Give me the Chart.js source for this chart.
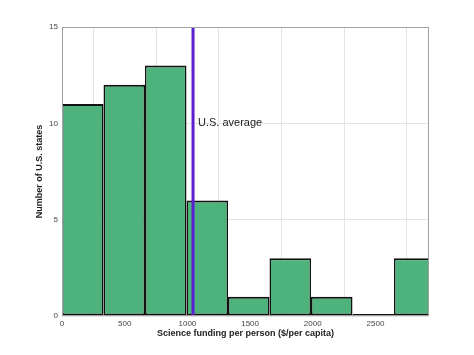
<!DOCTYPE html>
<html>
<head>
<meta charset="utf-8">
<script src="https://cdn.jsdelivr.net/npm/chart.js@4/dist/chart.umd.min.js"></script>
<style>
html,body{margin:0;padding:0;background:#fff;}
#wrap{width:474px;height:355px;}
</style>
</head>
<body>
<div id="wrap"><canvas id="c" width="474" height="355"></canvas></div>
<script>
// Histogram bin edges and counts per bin
const binEdges = [0, 331, 662, 993, 1324, 1655, 1986, 2317, 2648, 2979];
const counts = [11, 12, 13, 6, 1, 3, 1, 0, 3];
const usAverage = 1045;
const avgLabel = 'U.S. average';
const avgLabelY = 10;
const xTicks = [0, 500, 1000, 1500, 2000, 2500];
const yTicks = [0, 5, 10, 15];
const xMax = 2927;
const xTitle = 'Science funding per person ($/per capita)';
const yTitle = 'Number of U.S. states';

const barData = counts.map((c, i) => ({x: (binEdges[i] + binEdges[i + 1]) / 2, y: c}));
const lineData = [{x: usAverage, y: 0}, {x: usAverage, y: yTicks[yTicks.length - 1]}];

const boxPlugin = {
  id: 'box',
  afterDatasetsDraw(chart) {
    const {ctx, chartArea: a, scales} = chart;
    ctx.save();
    ctx.strokeStyle = '#a0a0a0';
    ctx.lineWidth = 1;
    ctx.strokeRect(a.left + 0.5, a.top + 0.5, a.right - a.left - 1, a.bottom - a.top - 1);
    ctx.fillStyle = '#222';
    ctx.font = '11px "Liberation Sans", Arial, sans-serif';
    ctx.textAlign = 'left';
    ctx.textBaseline = 'middle';
    ctx.fillText(avgLabel, scales.x.getPixelForValue(usAverage) + 5, scales.y.getPixelForValue(avgLabelY));
    ctx.restore();
  }
};

new Chart(document.getElementById('c'), {
  type: 'bar',
  data: {
    datasets: [
      {
        type: 'line',
        data: lineData,
        borderColor: '#5a1fd0',
        borderWidth: 3,
        pointRadius: 0,
        order: 0,
        clip: false
      },
      {
        type: 'bar',
        data: barData,
        backgroundColor: '#4db27b',
        borderColor: '#111',
        borderWidth: {left: 1.5, right: 1.5, top: 2, bottom: 2},
        borderSkipped: false,
        barPercentage: 1,
        categoryPercentage: 1,
        minBarLength: 2,
        inflateAmount: 0,
        order: 1
      }
    ]
  },
  options: {
    responsive: false,
    animation: false,
    devicePixelRatio: 1,
    layout: {padding: {left: 0, right: 45, top: 27, bottom: 0}},
    plugins: {legend: {display: false}, tooltip: {enabled: false}},
    scales: {
      x: {
        type: 'linear',
        min: 0,
        max: xMax,
        offset: false,
        afterBuildTicks(s) { s.ticks = xTicks.map(v => ({value: v})); },
        afterFit(s) { s.height = 39; },
        grid: {color: '#e4e4e4', drawTicks: false},
        border: {display: false},
        ticks: {
          padding: 3,
          color: '#444',
          callback: v => String(v),
          font: {family: '"Liberation Sans", Arial, sans-serif', size: 8},
          maxRotation: 0
        },
        title: {
          display: true,
          text: xTitle,
          color: '#222',
          padding: {top: 0, bottom: 16.5},
          font: {family: '"Liberation Sans", Arial, sans-serif', size: 9, weight: 'bold'}
        }
      },
      y: {
        min: 0,
        max: 15,
        afterBuildTicks(s) { s.ticks = yTicks.map(v => ({value: v})); },
        afterFit(s) { s.width = 62; },
        grid: {color: '#e4e4e4', drawTicks: false},
        border: {display: false},
        ticks: {
          padding: 4,
          color: '#444',
          callback: v => String(v),
          font: {family: '"Liberation Sans", Arial, sans-serif', size: 8}
        },
        title: {
          display: true,
          text: yTitle,
          color: '#222',
          padding: {top: 34.5, bottom: 0},
          font: {family: '"Liberation Sans", Arial, sans-serif', size: 9, weight: 'bold'}
        }
      }
    }
  },
  plugins: [boxPlugin]
});
</script>
</body>
</html>
